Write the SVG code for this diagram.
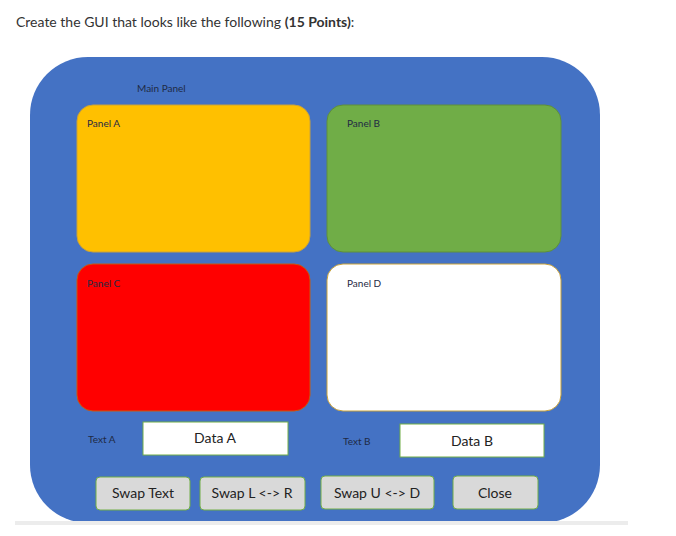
<svg xmlns="http://www.w3.org/2000/svg" width="676" height="536" viewBox="0 0 676 536">
<style>
.t{font-family:"Lato","Liberation Sans",sans-serif}
.s{font-size:10px;fill:#1f2a44}
.btn{fill:#d9d9d9;stroke:#70ad47;stroke-width:1}
.bt{font-size:14px;fill:#222;text-anchor:middle}
.fld{fill:#fff;stroke:#70ad47;stroke-width:1}
</style>
<rect width="676" height="536" fill="#fff"/>
<text class="t" x="16" y="27" font-size="14" fill="#333">Create the GUI that looks like the following <tspan font-weight="bold">(15 Points)</tspan>:</text>
<g id="main"><rect x="30" y="57" width="570" height="466" rx="58" fill="#4472c4"/>
<text class="t s" x="137" y="92">Main Panel</text></g>
<g id="panelA"><rect x="77" y="105" width="233" height="147" rx="16" fill="#ffc000" stroke="#c9a23a"/><text class="t s" x="87" y="127">Panel A</text></g>
<g id="panelB"><rect x="327" y="105" width="234" height="147" rx="16" fill="#70ad47" stroke="#5e8f3c"/><text class="t s" x="347" y="127">Panel B</text></g>
<g id="panelC"><rect x="77" y="264" width="233" height="147" rx="16" fill="#ff0000" stroke="#c55a11"/><text class="t s" x="87" y="287" fill="#7a3a00">Panel C</text></g>
<g id="panelD"><rect x="327" y="264" width="234" height="147" rx="16" fill="#fff" stroke="#c9a23a"/><text class="t s" x="347" y="287">Panel D</text></g>
<g id="textA"><text class="t s" x="88" y="443">Text A</text><rect class="fld" x="143" y="422" width="145" height="33"/><text class="t bt" x="215" y="443">Data A</text></g>
<g id="textB"><text class="t s" x="343" y="445">Text B</text><rect class="fld" x="400" y="424" width="144" height="33"/><text class="t bt" x="472" y="446">Data B</text></g>
<g id="b1"><rect class="btn" x="96" y="477" width="94" height="33" rx="4"/><text class="t bt" x="143" y="498">Swap Text</text></g>
<g id="b2"><rect class="btn" x="200" y="477" width="105" height="33" rx="4"/><text class="t bt" x="252" y="498">Swap L &lt;-&gt; R</text></g>
<g id="b3"><rect class="btn" x="321" y="476" width="113" height="33" rx="4"/><text class="t bt" x="377" y="498">Swap U &lt;-&gt; D</text></g>
<g id="b4"><rect class="btn" x="453" y="476" width="85" height="33" rx="4"/><text class="t bt" x="495" y="498">Close</text></g>
<rect x="15" y="521" width="613" height="4" fill="#ececec"/>
<g id="connectors"/>
</svg>
